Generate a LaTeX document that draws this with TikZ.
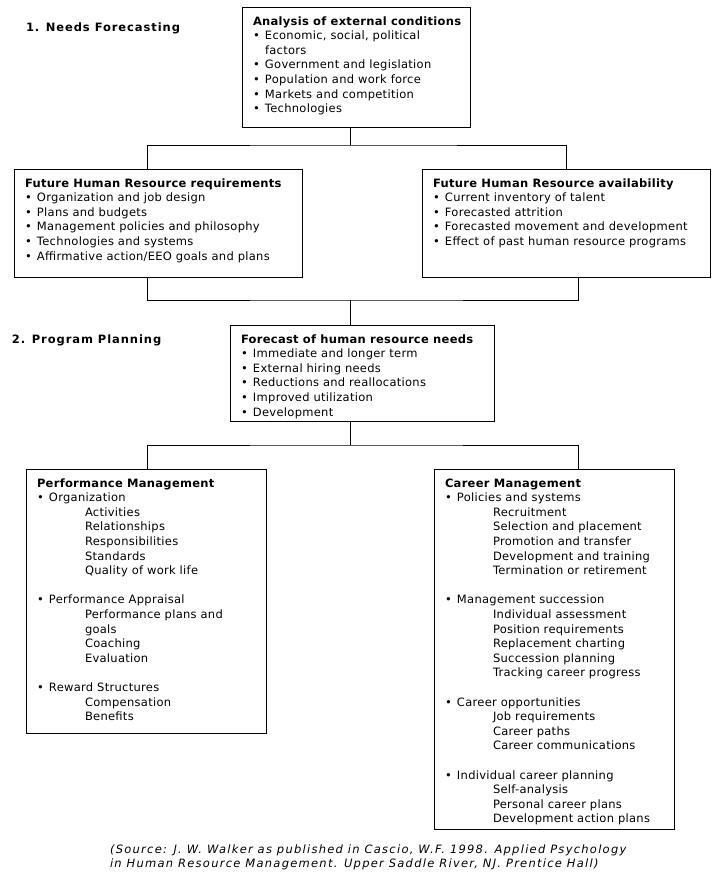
\documentclass[tikz,border=0pt]{standalone}
\usepackage{fontspec}
\setmainfont{DejaVu Sans}[ItalicFont={DejaVu Sans Oblique},BoldFont={DejaVu Sans Bold},LetterSpace=2.5]
\newfontfamily\headfont{DejaVu Sans Bold}[LetterSpace=8]
\newfontfamily\srcfont{DejaVu Sans Oblique}[LetterSpace=11]
\usetikzlibrary{calc}
\newcommand{\bul}{\makebox[12pt][l]{•}}
\newcommand{\subi}{\hspace*{48pt}}
\newcommand{\mylines}[1]{\begin{tabular}[t]{@{}l@{}}#1\end{tabular}}
\tikzset{
  box/.style={draw, line width=1pt, anchor=north west, inner sep=0pt, outer sep=0pt},
  txt/.style={anchor=base west, inner sep=0pt, outer sep=0pt},
  conn/.style={line width=1pt},
  head/.style={txt, font=\fontsize{11.5}{14.6}\headfont},
}
\begin{document}
\begin{tikzpicture}[x=1pt,y=-1pt,every node/.append style={font=\fontsize{11.5}{14.6}\selectfont}]
\useasboundingbox (0,0) rectangle (721,892);

% headings
\node[head] (h1) at (26,31) {1. Needs Forecasting};
\node[head] (h2) at (12,343) {2. Program Planning};

% boxes
\node[box, minimum width=228, minimum height=120] (A) at (242,7) {};
\node[box, minimum width=288, minimum height=108] (B) at (14,169) {};
\node[box, minimum width=288, minimum height=108] (C) at (422,169) {};
\node[box, minimum width=264, minimum height=96] (D) at (230,325) {};
\node[box, minimum width=240, minimum height=264] (E) at (26,469) {};
\node[box, minimum width=240, minimum height=360] (F) at (434,469) {};

% texts
\node[txt] (At) at (253,25) {\mylines{%
\textbf{Analysis of external conditions}\\
\bul Economic, social, political\\
\hspace*{12pt}factors\\
\bul Government and legislation\\
\bul Population and work force\\
\bul Markets and competition\\
\bul Technologies}};

\node[txt] (Bt) at (25,187) {\mylines{%
\textbf{Future Human Resource requirements}\\
\bul Organization and job design\\
\bul Plans and budgets\\
\bul Management policies and philosophy\\
\bul Technologies and systems\\
\bul Affirmative action/EEO goals and plans}};

\node[txt] (Ct) at (433,187) {\mylines{%
\textbf{Future Human Resource availability}\\
\bul Current inventory of talent\\
\bul Forecasted attrition\\
\bul Forecasted movement and development\\
\bul Effect of past human resource programs}};

\node[txt] (Dt) at (241,343) {\mylines{%
\textbf{Forecast of human resource needs}\\
\bul Immediate and longer term\\
\bul External hiring needs\\
\bul Reductions and reallocations\\
\bul Improved utilization\\
\bul Development}};

\node[txt] (Et) at (37,487) {\mylines{%
\textbf{Performance Management}\\
\bul Organization\\
\subi Activities\\
\subi Relationships\\
\subi Responsibilities\\
\subi Standards\\
\subi Quality of work life\\[14.6pt]
\bul Performance Appraisal\\
\subi Performance plans and\\
\subi goals\\
\subi Coaching\\
\subi Evaluation\\[14.6pt]
\bul Reward Structures\\
\subi Compensation\\
\subi Benefits}};

\node[txt] (Ft) at (445,487) {\mylines{%
\textbf{Career Management}\\
\bul Policies and systems\\
\subi Recruitment\\
\subi Selection and placement\\
\subi Promotion and transfer\\
\subi Development and training\\
\subi Termination or retirement\\[14.6pt]
\bul Management succession\\
\subi Individual assessment\\
\subi Position requirements\\
\subi Replacement charting\\
\subi Succession planning\\
\subi Tracking career progress\\[14.6pt]
\bul Career opportunities\\
\subi Job requirements\\
\subi Career paths\\
\subi Career communications\\[14.6pt]
\bul Individual career planning\\
\subi Self-analysis\\
\subi Personal career plans\\
\subi Development action plans}};

% source
\node[txt] (src) at (110,853) {\srcfont\mylines{%
(Source: J. W. Walker as published in Cascio, W.F. 1998. Applied Psychology\\
in Human Resource Management. Upper Saddle River, NJ. Prentice Hall)}};

% connectors
\coordinate (j1) at (350,145);
\coordinate (j2) at (350,300);
\coordinate (j3) at (350,445);
\draw[conn] (A.south -| j1) -- (j1);
\draw[conn] ([xshift=-11]B.north) |- (j1) -| (C.north);
\draw[conn] ([xshift=-11]B.south) |- (j2) -| ([xshift=12]C.south);
\draw[conn] (j2) -- (D.north -| j2);
\draw[conn] (D.south -| j3) -- (j3);
\draw[conn] ([xshift=1]E.north) |- (j3) -| ([xshift=24]F.north);
\end{tikzpicture}
\end{document}
